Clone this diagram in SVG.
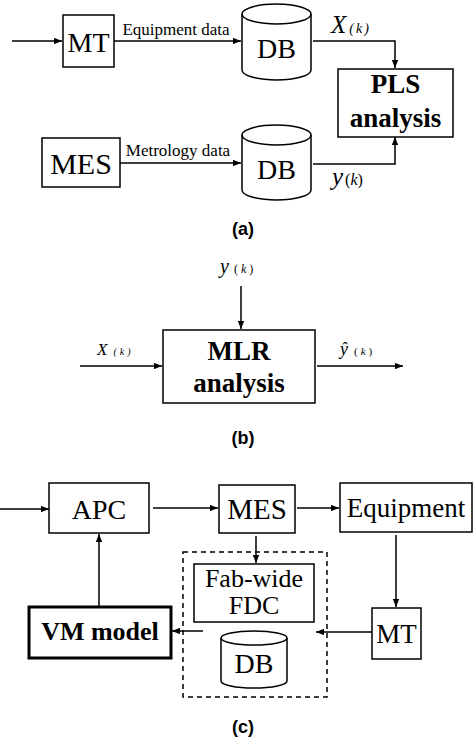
<svg xmlns="http://www.w3.org/2000/svg" width="474" height="740" viewBox="0 0 474 740">
<style>
.bx{fill:#fff;stroke:#000;stroke-width:1.5}
.ln{fill:none;stroke:#000;stroke-width:1.5}
.t{font-family:'Liberation Serif','Tinos','Times New Roman','DejaVu Serif',serif;fill:#000;text-anchor:middle}
.tb{font-family:'Liberation Serif','Tinos','Times New Roman','DejaVu Serif',serif;font-weight:bold;fill:#000;text-anchor:middle}
.cap{font-family:'Liberation Sans',Arial,sans-serif;font-weight:bold;font-size:18px;fill:#000;text-anchor:middle}
.it{font-family:'Liberation Serif','Tinos','Times New Roman','DejaVu Serif',serif;font-style:italic;fill:#000}
</style>
<defs>
<marker id="ah" viewBox="0 0 10 8" refX="10" refY="4" markerWidth="8" markerHeight="6.4" markerUnits="userSpaceOnUse" orient="auto">
<path d="M0,0 L10,4 L0,8 Z" fill="#000"/>
</marker>
</defs>
<rect width="474" height="740" fill="#fff"/>

<g id="connectors">
<line class="ln" x1="12" y1="41" x2="62" y2="41" marker-end="url(#ah)"/>
<line class="ln" x1="114" y1="41" x2="241" y2="41" marker-end="url(#ah)"/>
<path class="ln" d="M313,41 H395 V68" marker-end="url(#ah)"/>
<line class="ln" x1="120" y1="163" x2="241" y2="163" marker-end="url(#ah)"/>
<path class="ln" d="M313,164 H395 V137" marker-end="url(#ah)"/>
<line class="ln" x1="241" y1="286" x2="241" y2="329" marker-end="url(#ah)"/>
<line class="ln" x1="80" y1="366" x2="162" y2="366" marker-end="url(#ah)"/>
<line class="ln" x1="317" y1="366" x2="403" y2="366" marker-end="url(#ah)"/>
<line class="ln" x1="0" y1="509" x2="49" y2="509" marker-end="url(#ah)"/>
<line class="ln" x1="153" y1="508" x2="218" y2="508" marker-end="url(#ah)"/>
<line class="ln" x1="297" y1="508" x2="339" y2="508" marker-end="url(#ah)"/>
<line class="ln" x1="396" y1="535" x2="396" y2="607" marker-end="url(#ah)"/>
<line class="ln" x1="372" y1="632" x2="316" y2="632" marker-end="url(#ah)"/>
<line class="ln" x1="256" y1="536" x2="256" y2="563" marker-end="url(#ah)"/>
<line class="ln" x1="203" y1="631" x2="172" y2="631" marker-end="url(#ah)"/>
<line class="ln" x1="99" y1="606" x2="99" y2="534" marker-end="url(#ah)"/>
</g>

<g id="labels">
<text class="t" x="176" y="35" font-size="17">Equipment data</text>
<text class="t" x="178" y="156" font-size="17">Metrology data</text>
<text class="it" x="331" y="33" font-size="25">X<tspan font-size="14" dx="3" letter-spacing="2">(k)</tspan></text>
<text class="it" x="332" y="185" font-size="25">y<tspan font-size="16" dx="2" font-style="normal">(<tspan font-style="italic">k</tspan>)</tspan></text>
<text class="it" x="220" y="273" font-size="20">y<tspan font-size="12" dx="5" font-style="normal" letter-spacing="3">(<tspan font-style="italic">k</tspan>)</tspan></text>
<text class="it" x="97" y="355" font-size="17">X<tspan font-size="10" dx="6" letter-spacing="3">(k)</tspan></text>
<text class="it" x="340" y="355" font-size="18">ŷ<tspan font-size="11" dx="6" font-style="normal" letter-spacing="3">(<tspan font-style="italic">k</tspan>)</tspan></text>
<text class="cap" x="243" y="235">(a)</text>
<text class="cap" x="243" y="444">(b)</text>
<text class="cap" x="243" y="733">(c)</text>
</g>

<g id="mt-a">
<rect class="bx" x="63" y="15" width="51" height="52"/>
<text class="t" x="88.5" y="52" font-size="28">MT</text>
</g>
<g id="db-a1">
<path class="bx" d="M242,14 A34.5,10 0 0 1 311,14 V70 A34.5,10 0 0 1 242,70 Z"/>
<path class="ln" d="M242,14 A34.5,10 0 0 0 311,14"/>
<text class="t" x="276.5" y="58" font-size="28">DB</text>
</g>
<g id="pls">
<rect class="bx" x="338" y="69" width="115" height="68"/>
<text class="tb" x="395.5" y="93" font-size="27">PLS</text>
<text class="tb" x="395.5" y="127" font-size="27">analysis</text>
</g>
<g id="mes-a">
<rect class="bx" x="42" y="138" width="78" height="49"/>
<text class="t" x="81" y="174" font-size="30">MES</text>
</g>
<g id="db-a2">
<path class="bx" d="M242,135 A34.5,10 0 0 1 311,135 V190 A34.5,10 0 0 1 242,190 Z"/>
<path class="ln" d="M242,135 A34.5,10 0 0 0 311,135"/>
<text class="t" x="276.5" y="179" font-size="28">DB</text>
</g>

<g id="mlr">
<rect class="bx" x="163" y="330" width="152" height="73"/>
<text class="tb" x="239" y="360" font-size="27">MLR</text>
<text class="tb" x="239" y="392" font-size="27">analysis</text>
</g>

<g id="apc">
<rect class="bx" x="49" y="483" width="100" height="50"/>
<text class="t" x="99" y="519" font-size="28">APC</text>
</g>
<g id="mes-c">
<rect class="bx" x="219" y="485" width="76" height="48"/>
<text class="t" x="257" y="519" font-size="29">MES</text>
</g>
<g id="equipment">
<rect class="bx" x="340" y="483" width="132" height="49"/>
<text class="t" x="406" y="517" font-size="27">Equipment</text>
</g>
<g id="mt-c">
<rect class="bx" x="372" y="608" width="49" height="51"/>
<text class="t" x="396.5" y="643" font-size="27">MT</text>
</g>
<g id="fab-group">
<rect x="183" y="552" width="144" height="145" fill="none" stroke="#000" stroke-width="1.5" stroke-dasharray="5,4"/>
</g>
<g id="fdc">
<rect class="bx" x="194" y="564" width="120" height="58"/>
<text class="t" x="254" y="587" font-size="26">Fab-wide</text>
<text class="t" x="254" y="614" font-size="26">FDC</text>
</g>
<g id="db-c">
<path class="bx" d="M221,638 A33,7 0 0 1 287,638 V681 A33,7 0 0 1 221,681 Z"/>
<path class="ln" d="M221,638 A33,7 0 0 0 287,638"/>
<text class="t" x="254" y="673" font-size="28">DB</text>
</g>
<g id="vm-model">
<rect x="29" y="607" width="142" height="51" fill="#fff" stroke="#000" stroke-width="3"/>
<text class="tb" x="100" y="640" font-size="26">VM model</text>
</g>
</svg>
